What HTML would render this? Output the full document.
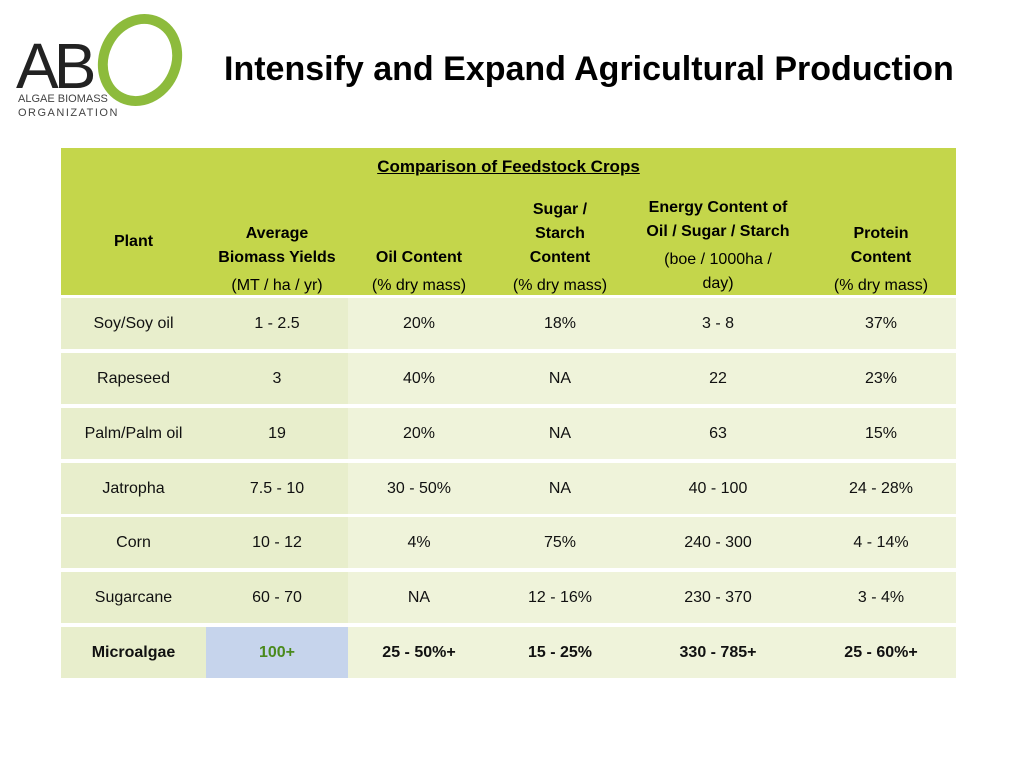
<!DOCTYPE html>
<html><head><meta charset="utf-8"><style>
body{margin:0;width:1024px;height:768px;background:#fff;font-family:"Liberation Sans",sans-serif;position:relative;overflow:hidden}
.abs{position:absolute}
.cell{position:absolute;display:flex;align-items:center;justify-content:center;text-align:center;font-size:16px;color:#111}
</style></head><body>
<div class="abs" style="left:14px;top:14px;width:180px;height:105px">
<svg width="180" height="105"><ellipse cx="126" cy="46" rx="36" ry="42" fill="none" stroke="#8dbb3c" stroke-width="10" transform="rotate(25 126 46)"/>
<text x="2" y="74" font-size="64" font-family="Liberation Sans" fill="#222" letter-spacing="-5">AB</text>
<text x="4" y="88" font-size="11" font-family="Liberation Sans" fill="#444">ALGAE BIOMASS</text>
<text x="4" y="102" font-size="11" font-family="Liberation Sans" fill="#444" letter-spacing="1.5">ORGANIZATION</text></svg></div>
<div class="abs" style="left:224px;top:50px;font-size:34px;font-weight:bold;color:#000">Intensify and Expand Agricultural Production</div>
<div class="abs" style="left:61px;top:148px;width:895px;height:147px;background:#c4d64b"></div>
<div class="abs" style="left:61px;top:157px;width:895px;text-align:center;font-size:17px;font-weight:bold;text-decoration:underline">Comparison of Feedstock Crops</div>
<div id="t"></div>
<script>
const cols=[61,206,348,490,630,806,956];
const heads=[["<b>Plant</b>"],["<b>Average<br>Biomass Yields</b>","(MT / ha / yr)"],["<b>Oil Content</b>","(% dry mass)"],["<b>Sugar /<br>Starch<br>Content</b>","(% dry mass)"],["<b>Energy Content of<br>Oil / Sugar / Starch</b>","(boe / 1000ha /<br>day)"],["<b>Protein<br>Content</b>","(% dry mass)"]];
const rows=[["Soy/Soy oil","1 - 2.5","20%","18%","3 - 8","37%"],["Rapeseed","3","40%","NA","22","23%"],["Palm/Palm oil","19","20%","NA","63","15%"],["Jatropha","7.5 - 10","30 - 50%","NA","40 - 100","24 - 28%"],["Corn","10 - 12","4%","75%","240 - 300","4 - 14%"],["Sugarcane","60 - 70","NA","12 - 16%","230 - 370","3 - 4%"],["Microalgae","100+","25 - 50%+","15 - 25%","330 - 785+","25 - 60%+"]];
const t=document.getElementById('t');
heads.forEach((h,i)=>{const d=document.createElement('div');d.className='abs';


d.style.cssText=`left:${cols[i]}px;width:${cols[i+1]-cols[i]}px;text-align:center;font-size:16px;line-height:24px;`;
if(h.length==1&&i==0){d.style.top='230px';d.innerHTML=h[0];}
else{const lines=(h[0].match(/<br>/g)||[]).length+1;const sub=(h[1].match(/<br>/g)||[]).length+1;
const subTop=268-(sub-1)*24;d.style.top=(subTop-lines*24+(sub>1?-2:0)+2)+'px';d.innerHTML=h[0]+'<div style="margin-top:4px">'+h[1]+'</div>';}
t.appendChild(d);});
const rowTop=[298,353,408,463,517,572,627];
rows.forEach((r,ri)=>{r.forEach((v,ci)=>{const d=document.createElement('div');d.className='cell';


let bg=ci<2?'#e8eecc':'#eff3da';if(ri==6&&ci==1)bg='#c6d4ec';
d.style.cssText+=`left:${cols[ci]}px;top:${rowTop[ri]}px;width:${cols[ci+1]-cols[ci]}px;height:51px;background:${bg};`;
if(ri==6){d.style.fontWeight='bold';if(ci==1)d.style.color='#4a8a1c';}
d.textContent=v;t.appendChild(d);});});
</script>
</body></html>
